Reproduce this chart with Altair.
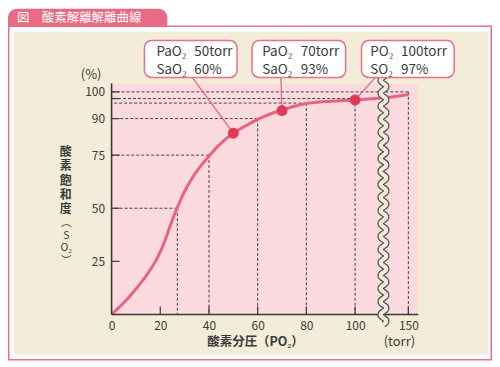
import altair as alt
import pandas as pd

# ---------------- data ----------------
curve_po2 = [0, 5, 10, 15, 18, 20, 22, 24, 26, 28, 30, 33, 36, 40, 44, 50, 55, 60, 65, 70, 75, 80, 90, 100, 115, 125, 140, 150]
curve_so2 = [0, 5.5, 12, 19.5, 25, 29.5, 35, 41.5, 47.5, 53, 58, 64, 69, 74.5, 79, 84, 87, 89.7, 91.7, 93.2, 94.6, 95.6, 96.5, 97, 97.4, 97.7, 98.4, 99]

point_po2 = [50, 70, 100]
point_so2 = [84, 93, 97]
label1_name = ["PaO₂", "PaO₂", "PO₂"]
label1_value = ["50torr", "70torr", "100torr"]
label2_name = ["SaO₂", "SaO₂", "SO₂"]
label2_value = ["60%", "93%", "97%"]

ref_po2 = [27, 40, 60, 80, 100, 150]
ref_so2 = [50, 75, 90, 95.8, 97.5, 100]

x_tick_values = [20, 40, 60, 80, 100, 150]
y_tick_values = [25, 50, 75, 90, 97.5, 100]
x_label_values = [0, 20, 40, 60, 80, 100, 150]
y_label_values = [25, 50, 75, 90, 100]

title_text = "図　酸素解離解離曲線"
y_title_chars = ["酸", "素", "飽", "和", "度"]
y_title_paren = ["︵", "S", "O₂", "︶"]
x_title_text = "酸素分圧（PO₂）"
x_unit_text = "(torr)"
y_unit_text = "(%)"

# ---------------- styling ----------------
W, H = 308, 232
FONT = "Noto Sans CJK JP"
PINK = "#e8708a"
TAB = "#e96a83"
BEIGE = "#f2ecd8"
PLOTBG = "#fbdbe0"
CURVE = "#e9637c"
DOT = "#e23a55"
INK = "#3a3a3a"

curve_df = pd.DataFrame({"po2": curve_po2, "so2": curve_so2})
pts_df = pd.DataFrame({"po2": point_po2, "so2": point_so2,
                       "n1": label1_name, "v1": label1_value,
                       "n2": label2_name, "v2": label2_value})
ref_df = pd.DataFrame({"po2": ref_po2, "so2": ref_so2})
xt_df = pd.DataFrame({"po2": x_tick_values})
yt_df = pd.DataFrame({"so2": y_tick_values})
one = alt.Data(values=[{}])

xs = alt.Scale(domain=[0, 100, 150, 159.6], range=[0, 244.5, 298, W], nice=False, zero=False)
ys = alt.Scale(domain=[0, 75, 90, 100, 103.2], range=[H, 72, 35.3, 8.5, 0], nice=False, zero=False)
xaxis = alt.Axis(values=x_label_values, title=None, ticks=False, domain=False, grid=False,
                 labelPadding=6, labelFlush=False, labelOverlap=False, labelFont=FONT,
                 labelFontSize=12, labelColor=INK, zindex=1)
yaxis = alt.Axis(values=y_label_values, title=None, ticks=False, domain=False, grid=False,
                 labelPadding=7, labelOverlap=False, labelFont=FONT,
                 labelFontSize=12, labelColor=INK, zindex=1)

def X(f):
    return alt.X(f, type="quantitative", scale=xs, axis=xaxis)

def Y(f):
    return alt.Y(f, type="quantitative", scale=ys, axis=yaxis)

V = alt.value

def box(x1, x2, y1, y2, **kw):
    return alt.Chart(one).mark_rect(**kw).encode(x=V(x1), x2=V(x2), y=V(y1), y2=V(y2))

def txt(x, y, t, **kw):
    base = dict(font=FONT, fontSize=13, color=INK, baseline="middle")
    base.update(kw)
    return alt.Chart(one).mark_text(**base).encode(x=V(x), y=V(y), text=V(t))

layers = []
# frame, beige panel, title tab
layers.append(box(-103.25, 381.25, -57.5, 277.5, fill="white", stroke=PINK, strokeWidth=1.5))
layers.append(box(-98, 378, -52, 272, fill=BEIGE))
layers.append(box(-104, 56, -75, -57, fill=TAB, cornerRadiusTopLeft=9, cornerRadiusTopRight=9))
layers.append(txt(-95, -65.5, title_text, align="left", color="white", fontSize=12.5))
# plot background
layers.append(box(0, W, 0, H, fill=PLOTBG))

# dashed reference lines
layers.append(alt.Chart(ref_df).mark_rule(color="#444", strokeDash=[3, 2], strokeWidth=1).encode(
    x=X("po2"), x2=alt.X2(datum=0), y=Y("so2")))
layers.append(alt.Chart(ref_df).mark_rule(color="#444", strokeDash=[3, 2], strokeWidth=1).encode(
    x=X("po2"), y=Y("so2"), y2=alt.Y2(datum=0)))

# curve
layers.append(alt.Chart(curve_df).mark_line(color=CURVE, strokeWidth=3, interpolate="monotone").encode(
    x=X("po2"), y=Y("so2")))

# axis lines and inward ticks
layers.append(alt.Chart(one).mark_rule(color=INK, strokeWidth=1.6).encode(x=V(0), x2=V(W), y=V(H)))
layers.append(alt.Chart(one).mark_rule(color=INK, strokeWidth=1.6).encode(x=V(0), y=V(0), y2=V(H)))
layers.append(alt.Chart(xt_df).mark_rule(color=INK, strokeWidth=1.2).encode(
    x=X("po2"), y=V(H), y2=V(H - 8)))
layers.append(alt.Chart(yt_df).mark_rule(color=INK, strokeWidth=1.2).encode(
    y=Y("so2"), x=V(0), x2=V(8)))

# axis break squiggle
half_waves = 39
step = 2.0 / half_waves
amp = 0.045
parts = ["M0,-1"]
for i in range(half_waves):
    y0 = -1 + step * i
    cx = amp if i % 2 == 0 else -amp
    parts.append(f"Q{cx:.4f},{y0 + step / 2:.4f} 0,{y0 + step:.4f}")
squiggle = " ".join(parts)
sq_size = 255 ** 2
layers.append(alt.Chart(one).mark_point(shape=squiggle, size=sq_size, filled=False, stroke="#555",
                                        strokeWidth=6.5, opacity=1).encode(x=V(273), y=V(114.5)))
layers.append(alt.Chart(one).mark_point(shape=squiggle, size=sq_size, filled=False, stroke=BEIGE,
                                        strokeWidth=4, opacity=1).encode(x=V(273), y=V(114.5)))

# callouts
box_left = [33, 141, 251]
box_right = [126, 235, 344]
anchor_x = [81, 170, 265]
name_x = [45, 151.3, 259.7]
value_x = [83, 190, 290.7]
for i in range(3):
    sub = alt.Chart(pts_df).transform_filter(alt.datum.po2 == point_po2[i])
    layers.append(sub.mark_rule(color="#e2607a", strokeWidth=1.2).encode(
        x=X("po2"), y=Y("so2"), x2=V(anchor_x[i]), y2=V(-6)))
layers.append(alt.Chart(pts_df).mark_point(filled=True, size=120, color=DOT, opacity=1).encode(
    x=X("po2"), y=Y("so2")))
for i in range(3):
    layers.append(box(box_left[i], box_right[i], -43, -6, fill="white", stroke=PINK,
                      strokeWidth=1.5, cornerRadius=7))
    sub = alt.Chart(pts_df).transform_filter(alt.datum.po2 == point_po2[i])
    tkw = dict(font=FONT, fontSize=13.5, color=INK, baseline="middle", align="left")
    layers.append(sub.mark_text(**tkw).encode(x=V(name_x[i]), y=V(-31.5), text="n1:N"))
    layers.append(sub.mark_text(**tkw).encode(x=V(value_x[i]), y=V(-31.5), text="v1:N"))
    layers.append(sub.mark_text(**tkw).encode(x=V(name_x[i]), y=V(-13.5), text="n2:N"))
    layers.append(sub.mark_text(**tkw).encode(x=V(value_x[i]), y=V(-13.5), text="v2:N"))

# axis titles
layers.append(alt.Chart(one).mark_text(font=FONT, fontSize=12, color=INK, baseline="top",
                                       lineHeight=14.3, fontWeight="bold").encode(
    x=V(-46), y=V(64), text=V(y_title_chars)))
layers.append(alt.Chart(one).mark_text(font=FONT, fontSize=10.5, color=INK, baseline="top",
                                       lineHeight=12.5).encode(
    x=V(-45.5), y=V(135.5), text=V(y_title_paren)))
layers.append(txt(-20.5, -8, y_unit_text, fontSize=13, align="center"))
layers.append(txt(144.5, 260, x_title_text, fontSize=12.5, align="center", fontWeight="bold"))
layers.append(txt(289, 260, x_unit_text, fontSize=13, align="center"))

chart = alt.layer(*layers).properties(
    width=W, height=H,
    autosize=alt.AutoSizeParams(type="none"),
    padding={"left": 104, "top": 75, "right": 74, "bottom": 46},
).configure(background="white").configure_view(stroke=None)

chart.save("out.html", embed_options={"renderer": "svg", "actions": False})
